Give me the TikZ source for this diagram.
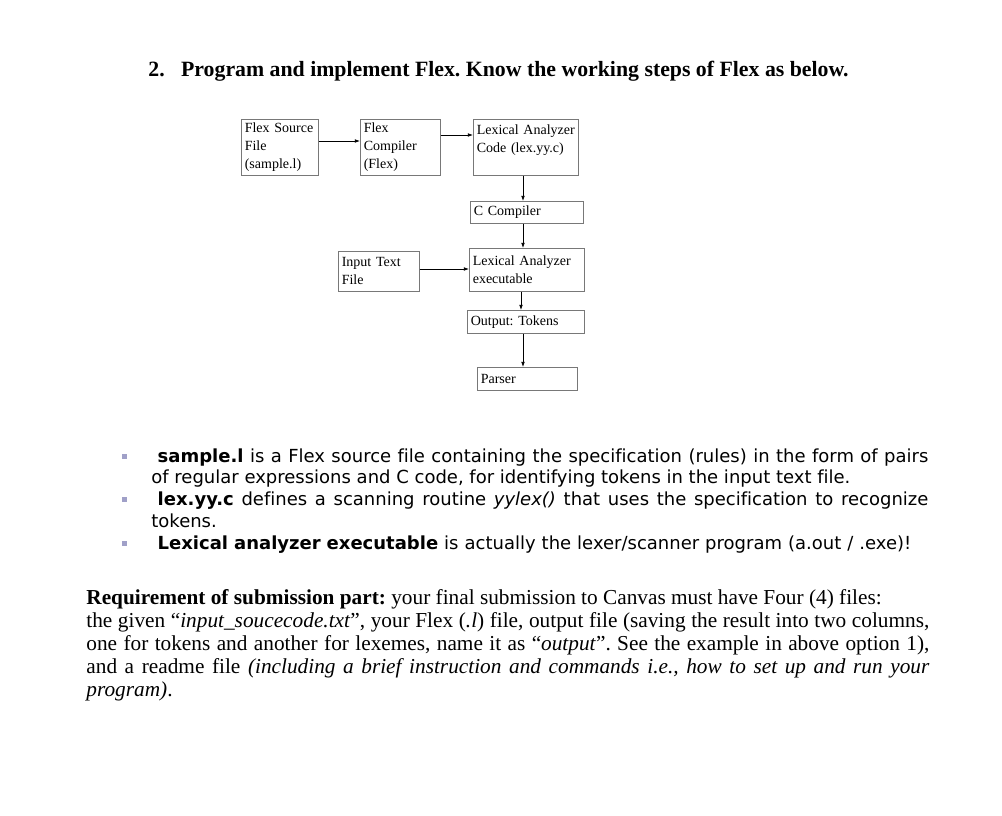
\documentclass[tikz,border=0pt]{standalone}
\usepackage{fontspec}
\setmainfont{Liberation Serif}
\newfontfamily\bulletfont[Ligatures=NoCommon]{DejaVu Sans}
\usetikzlibrary{arrows.meta,calc}

\definecolor{boxgray}{RGB}{120,120,120}
\definecolor{bulletblue}{RGB}{160,160,200}

\frenchspacing

\begin{document}
\begin{tikzpicture}[x=1pt,y=-1pt,thick]

% --------------------
% Parameters (tweak these)
% --------------------
\def\boxfont{\fontsize{14}{18}\selectfont}
\def\bodyfont{\fontsize{21.3}{23}\selectfont}
\def\bulfont{\bulletfont\fontsize{18}{21.7}\selectfont}

\tikzset{
  arrow/.style={-{Latex[length=1.8mm,width=1.3mm]}, line width=0.8pt},
  flow/.style={draw=boxgray, line width=0.6pt, anchor=north west, inner sep=3pt,
    align=left, font=\boxfont},
  bul/.style={fill=bulletblue, minimum size=5pt, inner sep=0pt},
  para/.style={anchor=north west, align=justify, inner sep=0pt}
}

\useasboundingbox (0,0) rectangle (1002,816);

% --------------------
% Title
% --------------------
\node[anchor=base west, inner sep=0pt, font=\bfseries\fontsize{21.8}{24}\selectfont]
  (title) at (148,77) {2.\hspace{0.75em}Program and implement Flex. Know the working steps of Flex as below.};

% --------------------
% Flow boxes (top row)
% --------------------
\node[flow, minimum width=77pt, minimum height=56pt, text width=70pt] (src) at (241,119)
  {Flex Source\\File\\(sample.l)};
\node[flow, minimum width=80pt, minimum height=56pt, text width=73pt] (flexc) at (360,119)
  {Flex\\Compiler\\(Flex)};
\node[flow, minimum width=105pt, minimum height=56pt, text width=98pt] (lexcode) at (473,119)
  {Lexical Analyzer\\Code (lex.yy.c)\\~};

% --------------------
% Flow boxes (column)
% --------------------
\node[flow, minimum width=113pt, minimum height=22pt, text width=106pt] (cc) at (470,201)
  {C Compiler};
\node[flow, minimum width=81pt, minimum height=40pt, text width=74pt] (input) at (338,251)
  {Input Text\\File};
\node[flow, minimum width=115pt, minimum height=43pt, text width=108pt] (lexexe) at (469,248)
  {Lexical Analyzer\\executable};
\node[flow, minimum width=117pt, minimum height=23pt, text width=110pt] (tokens) at (467,310)
  {Output: Tokens};
\node[flow, minimum width=100pt, minimum height=23pt, text width=93pt] (parser) at (477,367)
  {Parser};

% --------------------
% Dataflow arrows
% --------------------
\draw[arrow] (src.east |- 0,141) -- (flexc.west |- 0,141);
\draw[arrow] (flexc.east |- 0,135) -- (lexcode.west |- 0,135);
\draw[arrow] (lexcode.south -| 523,0) -- (cc.north -| 523,0);
\draw[arrow] (cc.south -| 523,0) -- (lexexe.north -| 523,0);
\draw[arrow] (input.east |- 0,269) -- (lexexe.west |- 0,269);
\draw[arrow] (lexexe.south -| 521,0) -- (tokens.north -| 521,0);
\draw[arrow] (tokens.south -| 523,0) -- (parser.north -| 523,0);

% --------------------
% Bullet list
% --------------------
\node[bul] (b1) at (124,456) {};
\node[bul] (b2) at (124,499) {};
\node[bul] (b3) at (124,543) {};

\node[para, text width=777pt, font=\bulfont] (t1) at (151,448)
  {\hspace{0.35em}\textbf{sample.l} is a Flex source file containing the specification (rules) in the form of pairs of regular expressions and C code, for identifying tokens in the input text file.};
\node[para, text width=777pt, font=\bulfont] (t2) at (151,491.5)
  {\hspace{0.35em}\textbf{lex.yy.c} defines a scanning routine \textit{yylex()} that uses the specification to recognize tokens.};
\node[para, text width=777pt, font=\bulfont, align=left] (t3) at (151,535)
  {\hspace{0.35em}\textbf{Lexical analyzer executable} is actually the lexer/scanner program (a.out / .exe)!};

% --------------------
% Submission requirement
% --------------------
\node[para, text width=843pt, font=\bodyfont] (req) at (86,589)
  {\textbf{Requirement of submission part:} your final submission to Canvas must have Four (4) files:\\
  the given ``\textit{input\_soucecode.txt}'', your Flex (\textit{.l}) file, output file (saving the result into two columns,\linebreak
  one for tokens and another for lexemes, name it as ``\textit{output}''. See the example in above option 1),\linebreak
  and a readme file \textit{(including a brief instruction and commands i.e., how to set up and run your\linebreak
  program)}.};

\end{tikzpicture}
\end{document}
